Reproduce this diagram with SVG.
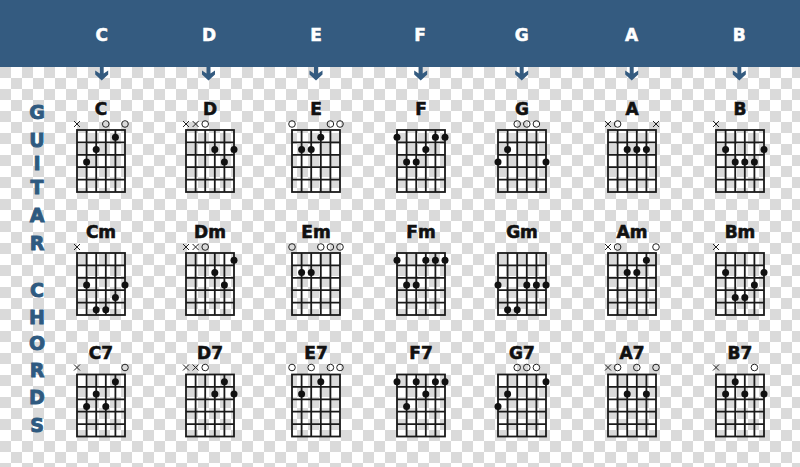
<svg xmlns="http://www.w3.org/2000/svg" xmlns:xlink="http://www.w3.org/1999/xlink" width="800" height="467" viewBox="0 0 800 467">
<style>
.grid line,.grid rect{stroke:#1a1a1a;stroke-width:1.8;fill:none}
.ttl{font-family:"DejaVu Sans","Liberation Sans",sans-serif;font-weight:bold;font-size:17px;fill:#111;stroke:#111;stroke-width:0.6;text-anchor:middle}
.hdr{font-family:"DejaVu Sans","Liberation Sans",sans-serif;font-weight:bold;font-size:17px;fill:#fff;stroke:#fff;stroke-width:0.5;text-anchor:middle}
.side{font-family:"DejaVu Sans","Liberation Sans",sans-serif;font-weight:bold;font-size:19px;fill:#2f5a80;stroke:#2f5a80;stroke-width:0.9;text-anchor:middle}
.o{fill:none;stroke:#222;stroke-width:1}
.x{stroke:#222;stroke-width:1;fill:none}
.d{fill:#111}
.arr{fill:#345b80}
</style>
<defs>
<pattern id="chk" patternUnits="userSpaceOnUse" x="0" y="1" width="22" height="22">
<rect width="22" height="22" fill="#ffffff"/>
<rect width="11" height="11" fill="#dadada"/>
<rect x="11" y="11" width="11" height="11" fill="#dadada"/>
</pattern>
<g id="grid" class="grid">
<rect x="0" y="0" width="48" height="62"/>
<line x1="9.6" y1="0" x2="9.6" y2="62"/><line x1="19.2" y1="0" x2="19.2" y2="62"/><line x1="28.8" y1="0" x2="28.8" y2="62"/><line x1="38.4" y1="0" x2="38.4" y2="62"/>
<line x1="0" y1="12.4" x2="48" y2="12.4"/><line x1="0" y1="24.8" x2="48" y2="24.8"/><line x1="0" y1="37.2" x2="48" y2="37.2"/><line x1="0" y1="49.6" x2="48" y2="49.6"/>
</g>
<circle id="o" class="o" r="3.3"/>
<path id="x" class="x" d="M-3,-3L3,3M3,-3L-3,3"/>
<circle id="d" class="d" r="3.5"/>
<path id="arrow" class="arr" d="M-2,0H2V6.5L6.5,3.5V7.5L0,13.5L-6.5,7.5V3.5L-2,6.5Z"/>
</defs>
<rect width="800" height="467" fill="url(#chk)"/>
<g id="header">
<rect x="0" y="0" width="800" height="67" fill="#345b80"/>
<text class="hdr" x="101.7" y="41">C</text>
<text class="hdr" x="209" y="41">D</text>
<text class="hdr" x="316" y="41">E</text>
<text class="hdr" x="420" y="41">F</text>
<text class="hdr" x="521.7" y="41">G</text>
<text class="hdr" x="631.7" y="41">A</text>
<text class="hdr" x="739.3" y="41">B</text>
</g>
<g id="connectors">
<use href="#arrow" x="101.7" y="67"/>
<use href="#arrow" x="208.5" y="67"/>
<use href="#arrow" x="316" y="67"/>
<use href="#arrow" x="420.7" y="67"/>
<use href="#arrow" x="521.7" y="67"/>
<use href="#arrow" x="631.7" y="67"/>
<use href="#arrow" x="739.3" y="67"/>
</g>
<g id="side-title">
<text class="side" x="37" y="118.5">G</text>
<text class="side" x="37" y="146.5">U</text>
<text class="side" x="37" y="170">I</text>
<text class="side" x="37" y="193.5">T</text>
<text class="side" x="37" y="221.5">A</text>
<text class="side" x="37" y="250">R</text>
<text class="side" x="37" y="296.5">C</text>
<text class="side" x="37" y="323.5">H</text>
<text class="side" x="37" y="350">O</text>
<text class="side" x="37" y="376.5">R</text>
<text class="side" x="37" y="403.5">D</text>
<text class="side" x="37" y="431.5">S</text>
</g>
<!-- Row 1 -->
<g id="chord-C" transform="translate(77,130)">
<text class="ttl" x="24" y="-15">C</text><use href="#grid"/>
<use href="#x" x="0" y="-6"/><use href="#o" x="28.8" y="-6"/><use href="#o" x="48" y="-6"/>
<use href="#d" x="38.4" y="7.2"/><use href="#d" x="19.2" y="19.6"/><use href="#d" x="9.6" y="32"/>
</g>
<g id="chord-D" transform="translate(186,130)">
<text class="ttl" x="24" y="-15">D</text><use href="#grid"/>
<use href="#x" x="0" y="-6"/><use href="#x" x="9.6" y="-6"/><use href="#o" x="19.2" y="-6"/>
<use href="#d" x="28.8" y="19.6"/><use href="#d" x="48" y="19.6"/><use href="#d" x="38.4" y="32"/>
</g>
<g id="chord-E" transform="translate(292,130)">
<text class="ttl" x="24" y="-15">E</text><use href="#grid"/>
<use href="#o" x="0" y="-6"/><use href="#o" x="38.4" y="-6"/><use href="#o" x="48" y="-6"/>
<use href="#d" x="9.6" y="19.6"/><use href="#d" x="19.2" y="19.6"/><use href="#d" x="28.8" y="7.2"/>
</g>
<g id="chord-F" transform="translate(397,130)">
<text class="ttl" x="24" y="-15">F</text><use href="#grid"/>
<use href="#d" x="0" y="7.2"/><use href="#d" x="38.4" y="7.2"/><use href="#d" x="48" y="7.2"/><use href="#d" x="28.8" y="19.6"/><use href="#d" x="9.6" y="32"/><use href="#d" x="19.2" y="32"/>
</g>
<g id="chord-G" transform="translate(498,130)">
<text class="ttl" x="24" y="-15">G</text><use href="#grid"/>
<use href="#o" x="19.2" y="-6"/><use href="#o" x="28.8" y="-6"/><use href="#o" x="38.4" y="-6"/>
<use href="#d" x="9.6" y="19.6"/><use href="#d" x="0" y="32"/><use href="#d" x="48" y="32"/>
</g>
<g id="chord-A" transform="translate(608,130)">
<text class="ttl" x="24" y="-15">A</text><use href="#grid"/>
<use href="#x" x="0" y="-6"/><use href="#o" x="9.6" y="-6"/><use href="#x" x="48" y="-6"/>
<use href="#d" x="19.2" y="19.6"/><use href="#d" x="28.8" y="19.6"/><use href="#d" x="38.4" y="19.6"/>
</g>
<g id="chord-B" transform="translate(716,130)">
<text class="ttl" x="24" y="-15">B</text><use href="#grid"/>
<use href="#x" x="0" y="-6"/>
<use href="#d" x="9.6" y="19.6"/><use href="#d" x="48" y="19.6"/><use href="#d" x="19.2" y="32"/><use href="#d" x="28.8" y="32"/><use href="#d" x="38.4" y="32"/>
</g>
<!-- Row 2 -->
<g id="chord-Cm" transform="translate(77,253)">
<text class="ttl" x="24" y="-15">Cm</text><use href="#grid"/>
<use href="#x" x="0" y="-6"/>
<use href="#d" x="9.6" y="32"/><use href="#d" x="48" y="32"/><use href="#d" x="38.4" y="44.4"/><use href="#d" x="19.2" y="56.8"/><use href="#d" x="28.8" y="56.8"/>
</g>
<g id="chord-Dm" transform="translate(186,253)">
<text class="ttl" x="24" y="-15">Dm</text><use href="#grid"/>
<use href="#x" x="0" y="-6"/><use href="#x" x="9.6" y="-6"/><use href="#o" x="19.2" y="-6"/>
<use href="#d" x="48" y="7.2"/><use href="#d" x="28.8" y="19.6"/><use href="#d" x="38.4" y="32"/>
</g>
<g id="chord-Em" transform="translate(292,253)">
<text class="ttl" x="24" y="-15">Em</text><use href="#grid"/>
<use href="#o" x="0" y="-6"/><use href="#o" x="28.8" y="-6"/><use href="#o" x="38.4" y="-6"/><use href="#o" x="48" y="-6"/>
<use href="#d" x="9.6" y="19.6"/><use href="#d" x="19.2" y="19.6"/>
</g>
<g id="chord-Fm" transform="translate(397,253)">
<text class="ttl" x="24" y="-15">Fm</text><use href="#grid"/>
<use href="#d" x="0" y="7.2"/><use href="#d" x="28.8" y="7.2"/><use href="#d" x="38.4" y="7.2"/><use href="#d" x="48" y="7.2"/><use href="#d" x="9.6" y="32"/><use href="#d" x="19.2" y="32"/>
</g>
<g id="chord-Gm" transform="translate(498,253)">
<text class="ttl" x="24" y="-15">Gm</text><use href="#grid"/>
<use href="#d" x="0" y="32"/><use href="#d" x="28.8" y="32"/><use href="#d" x="38.4" y="32"/><use href="#d" x="48" y="32"/><use href="#d" x="9.6" y="56.8"/><use href="#d" x="19.2" y="56.8"/>
</g>
<g id="chord-Am" transform="translate(608,253)">
<text class="ttl" x="24" y="-15">Am</text><use href="#grid"/>
<use href="#x" x="0" y="-6"/><use href="#o" x="9.6" y="-6"/><use href="#o" x="48" y="-6"/>
<use href="#d" x="38.4" y="7.2"/><use href="#d" x="19.2" y="19.6"/><use href="#d" x="28.8" y="19.6"/>
</g>
<g id="chord-Bm" transform="translate(716,253)">
<text class="ttl" x="24" y="-15">Bm</text><use href="#grid"/>
<use href="#x" x="0" y="-6"/>
<use href="#d" x="9.6" y="19.6"/><use href="#d" x="48" y="19.6"/><use href="#d" x="38.4" y="32"/><use href="#d" x="19.2" y="44.4"/><use href="#d" x="28.8" y="44.4"/>
</g>
<!-- Row 3 -->
<g id="chord-C7" transform="translate(77,374.5)">
<text class="ttl" x="24" y="-16">C7</text><use href="#grid"/>
<use href="#x" x="0" y="-7"/><use href="#o" x="48" y="-7"/>
<use href="#d" x="38.4" y="7.2"/><use href="#d" x="19.2" y="19.6"/><use href="#d" x="9.6" y="32"/><use href="#d" x="28.8" y="32"/>
</g>
<g id="chord-D7" transform="translate(186,374.5)">
<text class="ttl" x="24" y="-16">D7</text><use href="#grid"/>
<use href="#x" x="0" y="-7"/><use href="#x" x="9.6" y="-7"/><use href="#o" x="19.2" y="-7"/>
<use href="#d" x="38.4" y="7.2"/><use href="#d" x="28.8" y="19.6"/><use href="#d" x="48" y="19.6"/>
</g>
<g id="chord-E7" transform="translate(292,374.5)">
<text class="ttl" x="24" y="-16">E7</text><use href="#grid"/>
<use href="#o" x="0" y="-7"/><use href="#o" x="19.2" y="-7"/><use href="#o" x="38.4" y="-7"/><use href="#o" x="48" y="-7"/>
<use href="#d" x="28.8" y="7.2"/><use href="#d" x="9.6" y="19.6"/>
</g>
<g id="chord-F7" transform="translate(397,374.5)">
<text class="ttl" x="24" y="-16">F7</text><use href="#grid"/>
<use href="#d" x="0" y="7.2"/><use href="#d" x="19.2" y="7.2"/><use href="#d" x="38.4" y="7.2"/><use href="#d" x="48" y="7.2"/><use href="#d" x="28.8" y="19.6"/><use href="#d" x="9.6" y="32"/>
</g>
<g id="chord-G7" transform="translate(498,374.5)">
<text class="ttl" x="24" y="-16">G7</text><use href="#grid"/>
<use href="#o" x="19.2" y="-7"/><use href="#o" x="28.8" y="-7"/><use href="#o" x="38.4" y="-7"/>
<use href="#d" x="48" y="7.2"/><use href="#d" x="9.6" y="19.6"/><use href="#d" x="0" y="32"/>
</g>
<g id="chord-A7" transform="translate(608,374.5)">
<text class="ttl" x="24" y="-16">A7</text><use href="#grid"/>
<use href="#x" x="0" y="-7"/><use href="#o" x="9.6" y="-7"/><use href="#o" x="28.8" y="-7"/><use href="#o" x="48" y="-7"/>
<use href="#d" x="19.2" y="19.6"/><use href="#d" x="38.4" y="19.6"/>
</g>
<g id="chord-B7" transform="translate(716,374.5)">
<text class="ttl" x="24" y="-16">B7</text><use href="#grid"/>
<use href="#x" x="0" y="-7"/><use href="#o" x="38.4" y="-7"/>
<use href="#d" x="19.2" y="7.2"/><use href="#d" x="9.6" y="19.6"/><use href="#d" x="28.8" y="19.6"/><use href="#d" x="48" y="19.6"/>
</g>
</svg>
